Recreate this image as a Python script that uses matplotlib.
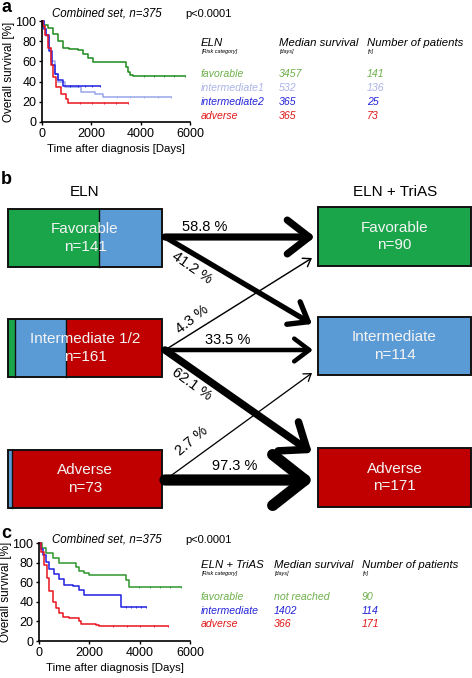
import numpy as np
import matplotlib
matplotlib.use("Agg")
import matplotlib.pyplot as plt
from matplotlib.patches import Rectangle, FancyArrowPatch, ArrowStyle

plt.rcParams["font.family"] = ["Liberation Sans", "DejaVu Sans"]

W, H = 472, 678

# ---- panel a: ELN survival curves (days, % surviving) ----
a_names = ["favorable", "intermediate1", "intermediate2", "adverse"]
a_median = ["3457", "532", "365", "365"]
a_n = ["141", "136", "25", "73"]
a_fav_t = [0, 100, 250, 450, 650, 850, 1100, 1460, 1650, 1865, 2070, 3420, 3490, 3560, 3700, 5780]
a_fav_s = [100, 96, 92.7, 87, 80, 73, 72, 71.3, 67, 63, 59.7, 54.8, 50, 47, 45.5, 45.5]
a_int1_t = [0, 100, 180, 300, 380, 510, 650, 920, 1600, 2130, 2470, 5240]
a_int1_s = [100, 92, 85, 73, 60, 48, 40, 35, 30, 28, 25, 25]
a_int2_t = [0, 80, 180, 290, 400, 510, 650, 850, 2340]
a_int2_s = [100, 92, 86, 70, 56, 48, 41.6, 35.6, 35.6]
a_adv_t = [0, 40, 110, 240, 350, 450, 580, 780, 980, 1050, 3490]
a_adv_s = [100, 95, 86, 73, 56, 45, 35, 28, 23, 19, 19]

# ---- panel b: reclassification ELN -> ELN + TriAS ----
eln_groups = ["Favorable", "Intermediate 1/2", "Adverse"]
eln_n = [141, 161, 73]
trias_groups = ["Favorable", "Intermediate", "Adverse"]
trias_n = [90, 114, 171]
# share of each ELN group moving to TriAS favorable / intermediate / adverse (%)
flow_pct = [[58.8, 41.2, 0.0],
            [4.3, 33.5, 62.1],
            [0.0, 2.7, 97.3]]

# ---- panel c: ELN + TriAS survival curves ----
c_names = ["favorable", "intermediate", "adverse"]
c_median = ["not reached", "1402", "366"]
c_n = ["90", "114", "171"]
c_fav_t = [0, 120, 280, 540, 800, 1470, 1600, 1800, 2000, 3460, 3560, 5640]
c_fav_s = [100, 95, 90, 85, 80, 76, 71, 69, 67, 62.6, 55, 55]
c_int_t = [0, 60, 140, 280, 410, 610, 810, 1000, 1340, 1600, 1800, 3260, 4250]
c_int_s = [100, 94, 88, 81, 73, 68, 63, 57, 56, 52, 47, 35, 35]
c_adv_t = [0, 80, 210, 300, 410, 540, 680, 800, 940, 1200, 1600, 1680, 2260, 2400, 5110]
c_adv_s = [100, 91, 78, 64, 51, 40, 34, 29, 24.5, 23, 20, 17.7, 16, 15, 15]

GREEN_BOX = "#1aa54b"
BLUE_BOX = "#5b9bd5"
RED_BOX = "#c00000"
box_cols = [GREEN_BOX, BLUE_BOX, RED_BOX]

fig = plt.figure(figsize=(W / 100, H / 100), dpi=100)
fig.patch.set_facecolor("white")


def km_axes(x0, x1, y_top, y_bot):
    ax = fig.add_axes([x0 / W, 1 - y_bot / H, (x1 - x0) / W, (y_bot - y_top) / H])
    ax.set_xlim(0, 6000)
    ax.set_ylim(0, 100)
    ax.set_xticks([0, 2000, 4000, 6000])
    ax.set_yticks([0, 20, 40, 60, 80, 100])
    for s in ["top", "right"]:
        ax.spines[s].set_visible(False)
    for s in ["left", "bottom"]:
        ax.spines[s].set_linewidth(1.2)
    ax.tick_params(labelsize=9, length=2.5, width=1, pad=1.5)
    ax.set_xlabel("Time after diagnosis [Days]", fontsize=8.2, labelpad=3)
    ax.set_ylabel("Overall survival [%]", fontsize=8.5, labelpad=0)
    ax.patch.set_alpha(0)
    return ax


def km(ax, t, s, col):
    ax.step(t, s, where="post", color=col, lw=1.1, clip_on=False)
    # a few censor ticks on the flat tail
    tail = np.linspace(t[-2], t[-1], 6)[1:]
    ax.plot(tail, [s[-1]] * len(tail), ls="none", marker="|", ms=1.8, mew=0.6, color=col)


axa = km_axes(42, 190, 21, 122)
km(axa, a_fav_t, a_fav_s, "#1e8c1e")
km(axa, a_int1_t, a_int1_s, "#9aa6ea")
km(axa, a_int2_t, a_int2_s, "#1f1fe0")
km(axa, a_adv_t, a_adv_s, "#e8141e")

axc = km_axes(39, 190, 543, 641)
km(axc, c_fav_t, c_fav_s, "#2e962e")
km(axc, c_int_t, c_int_s, "#1f1fe0")
km(axc, c_adv_t, c_adv_s, "#e8141e")

# overlay axes in pixel coordinates
ov = fig.add_axes([0, 0, 1, 1], zorder=-1)
ov.set_xlim(0, W)
ov.set_ylim(H, 0)
ov.axis("off")

# panel letters
for lab, y in [("a", 8), ("b", 180), ("c", 534)]:
    ov.text(1, y, lab, fontsize=13, fontweight="bold", va="center", ha="left")

# headers for the KM panels
for y in [14, 540]:
    ov.text(52, y, "Combined set, n=375", fontsize=8.3, style="italic", va="center")
    ov.text(185, y, "p<0.0001", fontsize=8, va="center")


def table(x_cols, y_head, y_rows, title, names, medians, ns, cols):
    heads = [title, "Median survival", "Number of patients"]
    subs = ["[Risk category]", "[days]", "[n]"]
    for x, h, sb in zip(x_cols, heads, subs):
        ov.text(x, y_head, h, fontsize=8.2, style="italic", va="center")
        ov.text(x, y_head + 8, sb, fontsize=4, style="italic", va="center")
    for y, nm, md, n, c in zip(y_rows, names, medians, ns, cols):
        ov.text(x_cols[0], y, nm, fontsize=7.6, style="italic", color=c, va="center")
        ov.text(x_cols[1], y, md, fontsize=7.6, style="italic", color=c, va="center")
        ov.text(x_cols[2], y, n, fontsize=7.6, style="italic", color=c, va="center")


table([201, 279, 367], 43, [74, 88, 102, 116], "ELN", a_names, a_median, a_n,
      ["#6db04b", "#aab4e6", "#2323d8", "#e01818"])
table([201, 274, 362], 565, [597, 611, 624], "ELN + TriAS", c_names, c_median, c_n,
      ["#6db04b", "#2323d8", "#e01818"])

# ---- panel b drawing ----
ov.text(85, 192, "ELN", fontsize=11, ha="center", va="center")
ov.text(395, 192, "ELN + TriAS", fontsize=11, ha="center", va="center")

lx0, lx1 = 8, 162
rx0, rx1 = 318, 471
left_y = [(209, 267), (319, 377), (450, 508)]
right_y = [(207, 266), (317, 375), (448, 507)]

for i, (g, n) in enumerate(zip(eln_groups, eln_n)):
    y0, y1 = left_y[i]
    x = lx0
    for j, p in enumerate(flow_pct[i]):
        w = (lx1 - lx0) * p / 100
        if w > 0:
            ov.add_patch(Rectangle((x, y0), w, y1 - y0, facecolor=box_cols[j], edgecolor="none"))
        x += w
        if 0 < x < lx1 - 0.5 and w > 0:
            ov.plot([x, x], [y0, y1], color="#111111", lw=1.0)
    ov.add_patch(Rectangle((lx0, y0), lx1 - lx0, y1 - y0, facecolor="none",
                           edgecolor="#111111", lw=1.4))
    ov.text((lx0 + lx1) / 2, (y0 + y1) / 2, f"{g}\nn={n}", color="#f4f4f4", fontsize=11,
            ha="center", va="center", linespacing=1.3)

for i, (g, n) in enumerate(zip(trias_groups, trias_n)):
    y0, y1 = right_y[i]
    ov.add_patch(Rectangle((rx0, y0), rx1 - rx0, y1 - y0, facecolor=box_cols[i],
                           edgecolor="#111111", lw=1.4))
    ov.text((rx0 + rx1) / 2, (y0 + y1) / 2, f"{g}\nn={n}", color="#f4f4f4", fontsize=11,
            ha="center", va="center", linespacing=1.3)

starts = [(165, 237), (165, 350), (165, 480)]
ends = [[(315, 237), (312, 324), None],
        [(312, 258), (313, 350), (312, 453)],
        [None, (312, 373), (314, 480)]]
lab_pos = [[(205, 227, 0), (192, 268, -35), None],
           [(192, 319, 38), (228, 340, 0), (192, 384, -36)],
           [None, (192, 441, 40), (235, 466, 0)]]

px2pt = 72 / 100
for i in range(3):
    for j in range(3):
        p = flow_pct[i][j]
        if p <= 0:
            continue
        lw = (1 + p * 0.105) * px2pt
        hw = (4 + p * 0.22) * px2pt
        hl = (6 + p * 0.27) * px2pt
        arr = FancyArrowPatch(starts[i], ends[i][j],
                              arrowstyle=ArrowStyle("->", head_length=hl, head_width=hw),
                              mutation_scale=1, lw=lw, color="black",
                              capstyle="round", joinstyle="round",
                              shrinkA=0, shrinkB=0)
        ov.add_patch(arr)
        lx, ly, rot = lab_pos[i][j]
        ov.text(lx, ly, f"{p:.1f} %", fontsize=10.5, rotation=rot, ha="center", va="center",
                rotation_mode="anchor")

fig.savefig("out.png", dpi=100)
